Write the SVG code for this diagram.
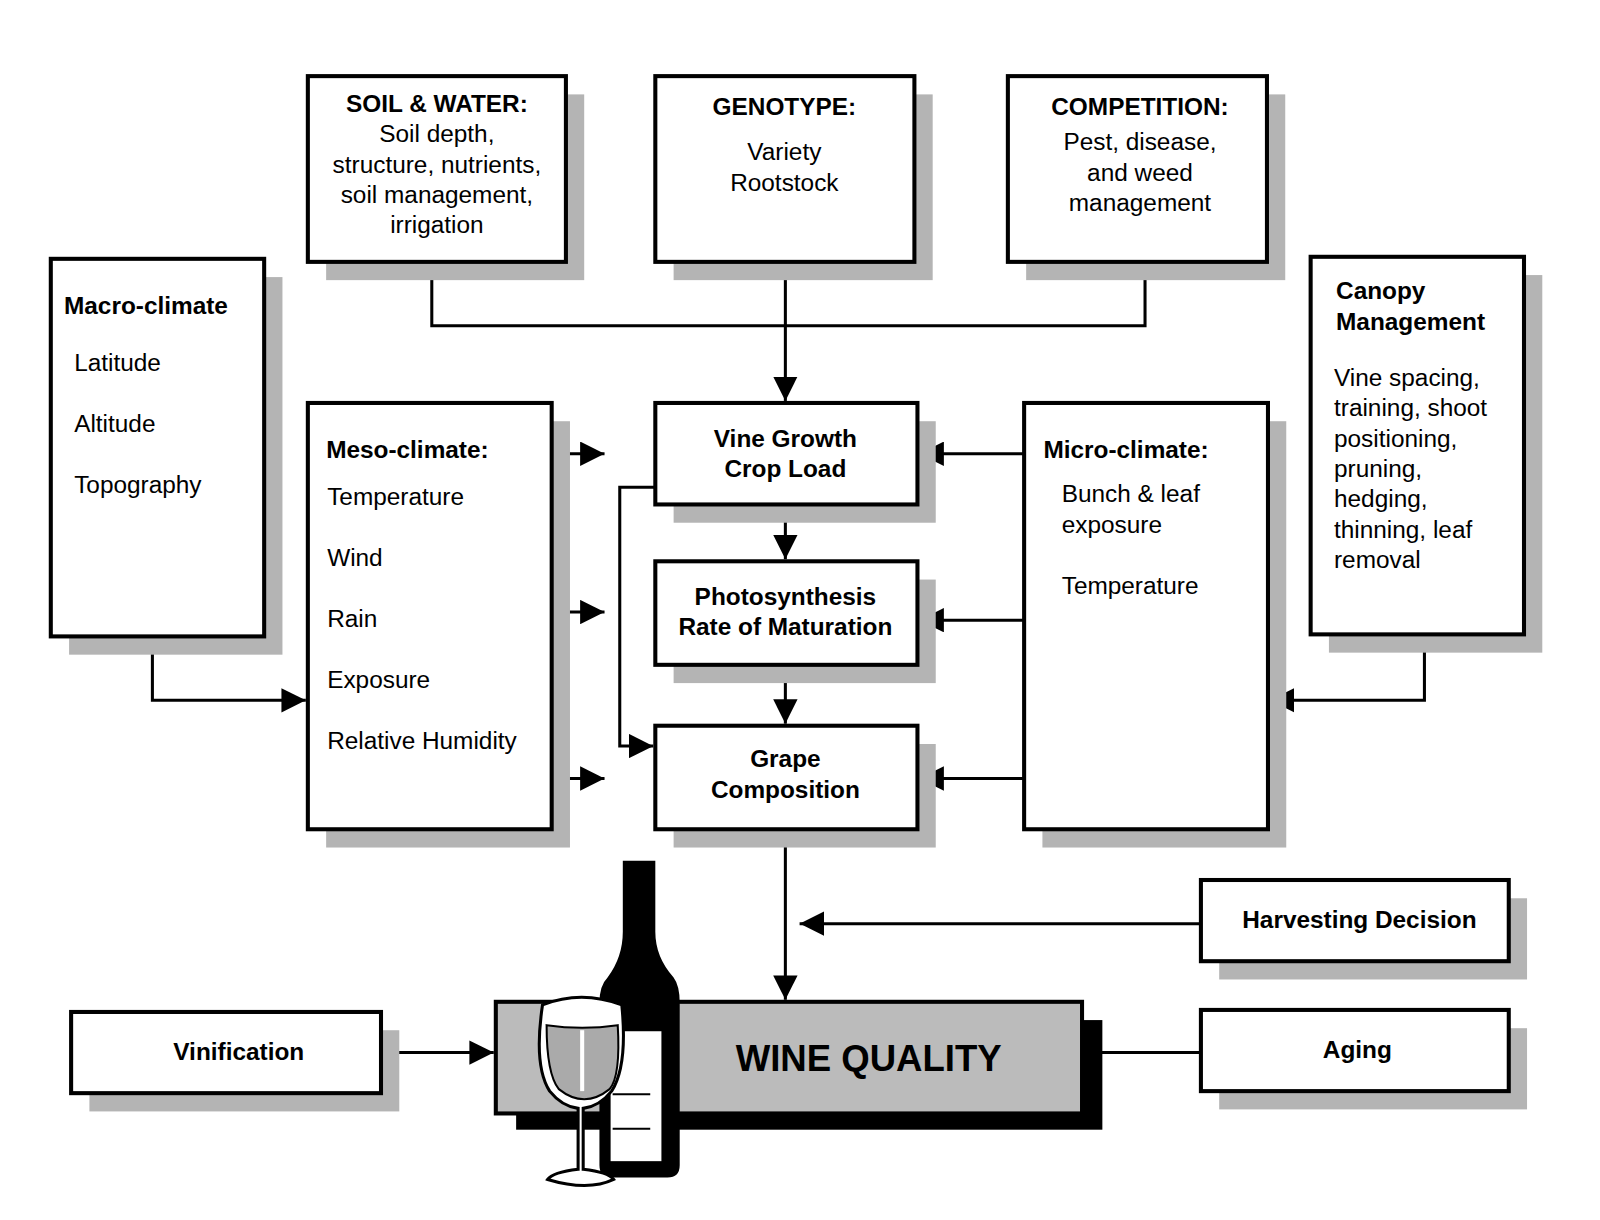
<svg xmlns="http://www.w3.org/2000/svg" width="1600" height="1220" viewBox="0 0 1600 1220">
<style>
.b{fill:#fff;stroke:#000;stroke-width:4}
.s{fill:#b4b4b4}
.t{font-family:"Liberation Sans",Arial,sans-serif;font-size:24px;fill:#000}
.h{font-weight:bold}
.c{text-anchor:middle}
.l{fill:none;stroke:#000;stroke-width:3}
</style>
<defs>
<marker id="m" viewBox="0 0 10 10" markerWidth="24" markerHeight="24" refX="10" refY="5" orient="auto" markerUnits="userSpaceOnUse"><path d="M0,0 L10,5 L0,10z"/></marker></defs>
<rect width="1600" height="1220" fill="#fff"/>
<g transform="scale(1.016,1.015)">
<g id="connectors">
<path class="l" d="M425,258 V321 H1127 V258"/>
<path class="l" d="M773,258 V395" marker-end="url(#m)"/>
<path class="l" d="M150,627 V690 H301" marker-end="url(#m)"/>
<path class="l" d="M545,447 H595" marker-end="url(#m)"/>
<path class="l" d="M545,603 H595" marker-end="url(#m)"/>
<path class="l" d="M545,767 H595" marker-end="url(#m)"/>
<path class="l" d="M645,480 H610 V735 H643" marker-end="url(#m)"/>
<path class="l" d="M773,497 V551" marker-end="url(#m)"/>
<path class="l" d="M773,655 V713" marker-end="url(#m)"/>
<path class="l" d="M1008,447 H905" marker-end="url(#m)"/>
<path class="l" d="M1008,611 H905" marker-end="url(#m)"/>
<path class="l" d="M1008,767 H905" marker-end="url(#m)"/>
<path class="l" d="M1402,625 V690 H1250" marker-end="url(#m)"/>
<path class="l" d="M773,817 V985" marker-end="url(#m)"/>
<path class="l" d="M1182,910 H787" marker-end="url(#m)"/>
<path class="l" d="M375,1037 H486" marker-end="url(#m)"/>
<path class="l" d="M1065,1037 H1182"/>
</g>
<g id="soil"><rect class="s" x="321" y="93" width="254" height="183"/><rect class="b" x="303" y="75" width="254" height="183"/>
<text class="t c" x="430" y="110"><tspan class="h">SOIL &amp; WATER:</tspan><tspan x="430" dy="30">Soil depth,</tspan><tspan x="430" dy="30">structure, nutrients,</tspan><tspan x="430" dy="30">soil management,</tspan><tspan x="430" dy="30">irrigation</tspan></text></g>
<g id="genotype"><rect class="s" x="663" y="93" width="255" height="183"/><rect class="b" x="645" y="75" width="255" height="183"/>
<text class="t c" x="772" y="113"><tspan class="h">GENOTYPE:</tspan><tspan x="772" dy="45">Variety</tspan><tspan x="772" dy="30">Rootstock</tspan></text></g>
<g id="competition"><rect class="s" x="1010" y="93" width="255" height="183"/><rect class="b" x="992" y="75" width="255" height="183"/>
<text class="t c" x="1122" y="113"><tspan class="h">COMPETITION:</tspan><tspan x="1122" dy="35">Pest, disease,</tspan><tspan x="1122" dy="30">and weed</tspan><tspan x="1122" dy="30">management</tspan></text></g>
<g id="macro"><rect class="s" x="68" y="273" width="210" height="372"/><rect class="b" x="50" y="255" width="210" height="372"/>
<text class="t" x="63" y="309"><tspan class="h">Macro-climate</tspan><tspan x="73" dy="57">Latitude</tspan><tspan x="73" dy="60">Altitude</tspan><tspan x="73" dy="60">Topography</tspan></text></g>
<g id="canopy"><rect class="s" x="1308" y="271" width="210" height="372"/><rect class="b" x="1290" y="253" width="210" height="372"/>
<text class="t" x="1315" y="295"><tspan class="h">Canopy</tspan><tspan x="1315" dy="30" class="h">Management</tspan><tspan x="1313" dy="55">Vine spacing,</tspan><tspan x="1313" dy="30">training, shoot</tspan><tspan x="1313" dy="30">positioning,</tspan><tspan x="1313" dy="30">pruning,</tspan><tspan x="1313" dy="30">hedging,</tspan><tspan x="1313" dy="30">thinning, leaf</tspan><tspan x="1313" dy="30">removal</tspan></text></g>
<g id="meso"><rect class="s" x="321" y="415" width="240" height="420"/><rect class="b" x="303" y="397" width="240" height="420"/>
<text class="t" x="321" y="451"><tspan class="h">Meso-climate:</tspan><tspan x="322" dy="47">Temperature</tspan><tspan x="322" dy="60">Wind</tspan><tspan x="322" dy="60">Rain</tspan><tspan x="322" dy="60">Exposure</tspan><tspan x="322" dy="60">Relative Humidity</tspan></text></g>
<g id="vine"><rect class="s" x="663" y="415" width="258" height="100"/><rect class="b" x="645" y="397" width="258" height="100"/>
<text class="t h c" x="773" y="440"><tspan>Vine Growth</tspan><tspan x="773" dy="30">Crop Load</tspan></text></g>
<g id="photo"><rect class="s" x="663" y="571" width="258" height="102"/><rect class="b" x="645" y="553" width="258" height="102"/>
<text class="t h c" x="773" y="596"><tspan>Photosynthesis</tspan><tspan x="773" dy="30">Rate of Maturation</tspan></text></g>
<g id="grape"><rect class="s" x="663" y="733" width="258" height="102"/><rect class="b" x="645" y="715" width="258" height="102"/>
<text class="t h c" x="773" y="756"><tspan>Grape</tspan><tspan x="773" dy="30">Composition</tspan></text></g>
<g id="micro"><rect class="s" x="1026" y="415" width="240" height="420"/><rect class="b" x="1008" y="397" width="240" height="420"/>
<text class="t" x="1027" y="451"><tspan class="h">Micro-climate:</tspan><tspan x="1045" dy="44">Bunch &amp; leaf</tspan><tspan x="1045" dy="30">exposure</tspan><tspan x="1045" dy="60">Temperature</tspan></text></g>
<g id="harvest"><rect class="s" x="1200" y="885" width="303" height="80"/><rect class="b" x="1182" y="867" width="303" height="80"/>
<text class="t h c" x="1338" y="914">Harvesting Decision</text></g>
<g id="vinification"><rect class="s" x="88" y="1015" width="305" height="80"/><rect class="b" x="70" y="997" width="305" height="80"/>
<text class="t h c" x="235" y="1044">Vinification</text></g>
<g id="aging"><rect class="s" x="1200" y="1013" width="303" height="80"/><rect class="b" x="1182" y="995" width="303" height="80"/>
<text class="t h c" x="1336" y="1042">Aging</text></g>
<g id="wine"><rect x="508" y="1005" width="577" height="108" fill="#000"/><rect x="488" y="987" width="577" height="110" fill="#bbb" stroke="#000" stroke-width="4"/>
<text class="t h c" x="855" y="1055" style="font-size:36px">WINE QUALITY</text>
<path d="M613,848 h32 v70 q0,25 18,45 q6,8 6,25 v160 q0,12 -12,12 h-55 q-12,0 -12,-12 v-160 q0,-17 8,-25 q15,-20 15,-45z" fill="#000"/>
<rect x="600" y="1015" width="52" height="130" fill="#fff" stroke="#000" stroke-width="2"/>
<line x1="603" y1="1078" x2="640" y2="1078" stroke="#000" stroke-width="2"/><line x1="603" y1="1112" x2="640" y2="1112" stroke="#000" stroke-width="2"/>
<path d="M534,990 q38,-15 78,0 q6,60 -10,85 q-12,15 -28,17 v60 q25,3 30,10 q-25,12 -65,0 q5,-7 30,-10 v-60 q-16,-2 -28,-17 q-16,-25 -7,-85z" fill="#fff" stroke="#000" stroke-width="3"/>
<path d="M538,1010 q35,5 70,0 q3,50 -8,63 q-25,20 -50,0 q-12,-15 -12,-63z" fill="#aaa" stroke="#000" stroke-width="2"/>
<line x1="573" y1="1015" x2="573" y2="1075" stroke="#fff" stroke-width="4"/>
</g>
</g>
</svg>
